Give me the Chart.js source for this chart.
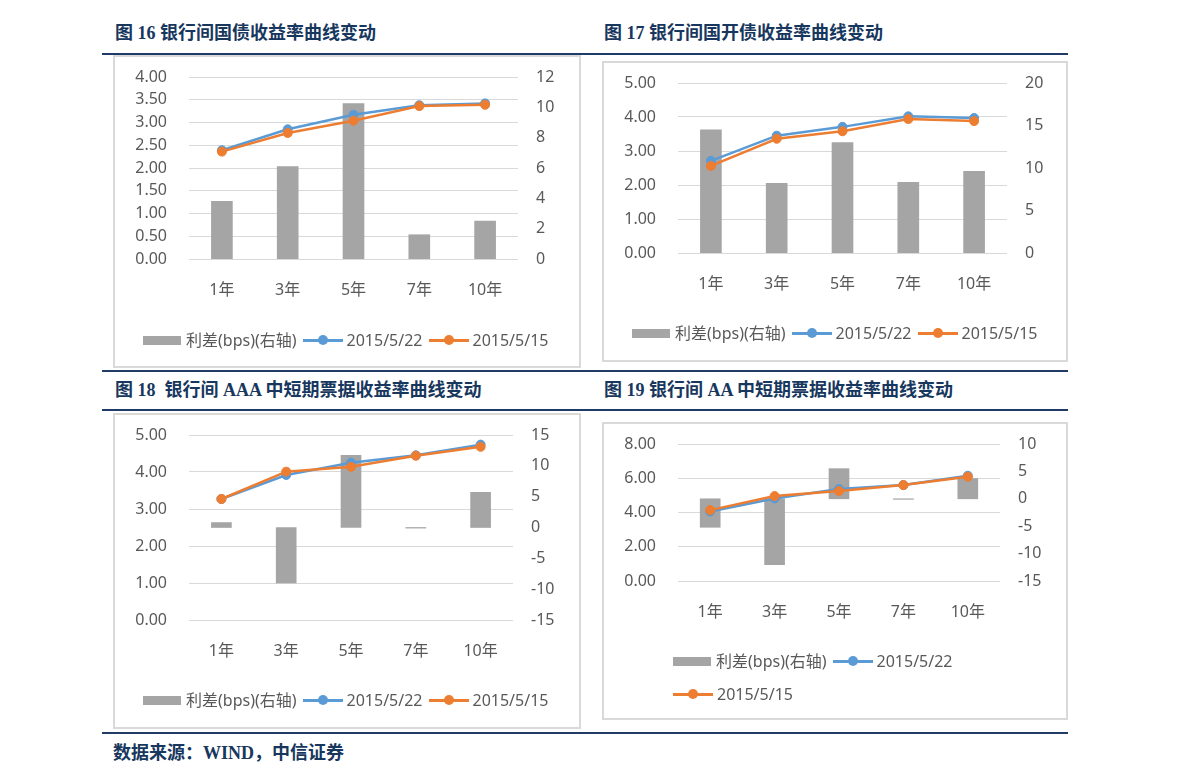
<!DOCTYPE html>
<html>
<head>
<meta charset="utf-8">
<script src="https://cdn.jsdelivr.net/npm/chart.js@4.4.1/dist/chart.umd.min.js"></script>
<style>
body { margin: 0; background: #fff; width: 1191px; height: 783px; position: relative; overflow: hidden;
       font-family: 'Noto Sans', 'Noto Sans CJK SC', sans-serif; }
.title { position: absolute; font: bold 18px 'Liberation Serif', 'Noto Sans CJK SC', serif; color: #17375E;
         white-space: nowrap; line-height: 20px; }
.rule { position: absolute; left: 102px; width: 966px; height: 2px; background: #1F3B66; }
.box { position: absolute; border: 2px solid #D9D9D9; box-sizing: border-box; }
canvas { position: absolute; }
.legend { position: absolute; display: flex; flex-wrap: wrap; align-items: center; font-size: 16px;
          color: #595959; row-gap: 11px; line-height: 22px; white-space: nowrap; }
.item { display: flex; align-items: center; margin-right: 6px; }
.sw { width: 38px; height: 9px; background: #A5A5A5; margin-right: 5px; }
.mk { position: relative; width: 40px; height: 10px; margin-right: 4px; }
.mk i { position: absolute; left: 0; right: 0; top: 4px; height: 2.5px; }
.mk b { position: absolute; left: 15px; top: 0; width: 10px; height: 10px; border-radius: 50%; }
</style>
</head>
<body>

<div class="title" style="left:115px;top:23px">图 16 银行间国债收益率曲线变动</div>
<div class="title" style="left:604px;top:23px">图 17 银行间国开债收益率曲线变动</div>
<div class="title" style="left:115px;top:380px">图 18&nbsp; 银行间 AAA 中短期票据收益率曲线变动</div>
<div class="title" style="left:604px;top:380px">图 19 银行间 AA 中短期票据收益率曲线变动</div>
<div class="title" style="left:113px;top:743px">数据来源：WIND，中信证券</div>

<div class="rule" style="top:53px"></div>
<div class="rule" style="top:370px"></div>
<div class="rule" style="top:409px"></div>
<div class="rule" style="top:732px"></div>

<div id="wrap"></div>

<script>
// categories and legend text
const tenors = ['1年', '3年', '5年', '7年', '10年'];
const seriesNames = ['利差(bps)(右轴)', '2015/5/22', '2015/5/15'];

// 图16 国债
const spread16 = [3.8, 6.1, 10.25, 1.6, 2.5];
const y0522_16 = [2.39, 2.85, 3.17, 3.38, 3.42];
const y0515_16 = [2.36, 2.77, 3.04, 3.36, 3.39];
const left16 = [0, 4, 0.5];      // min, max, step
const right16 = [0, 12, 2];

// 图17 国开债
const spread17 = [14.5, 8.2, 13.0, 8.3, 9.6];
const y0522_17 = [2.71, 3.45, 3.71, 4.02, 3.97];
const y0515_17 = [2.56, 3.36, 3.58, 3.94, 3.88];
const left17 = [0, 5, 1];
const right17 = [0, 20, 5];

// 图18 AAA 中短期票据
const spread18 = [0.8, -9.0, 11.7, -0.1, 5.7];
const y0522_18 = [3.27, 3.92, 4.25, 4.45, 4.74];
const y0515_18 = [3.27, 4.01, 4.14, 4.44, 4.68];
const left18 = [0, 5, 1];
const right18 = [-15, 15, 5];

// 图19 AA 中短期票据
const spread19 = [-5.2, -12.0, 5.5, -0.1, 3.7];
const y0522_19 = [4.06, 4.82, 5.37, 5.60, 6.15];
const y0515_19 = [4.14, 4.96, 5.25, 5.60, 6.09];
const left19 = [0, 8, 2];
const right19 = [-15, 10, 5];

const GRAY = '#A5A5A5', BLUE = '#5B9BD5', ORANGE = '#ED7D31';

Chart.defaults.font.family = "'Noto Sans', 'Noto Sans CJK SC', sans-serif";
Chart.defaults.font.size = 16;
Chart.defaults.color = '#595959';

function makeLegend(left, top, width) {
    const lg = document.createElement('div');
    lg.className = 'legend';
    lg.style.left = left + 'px';
    lg.style.top = top + 'px';
    if (width) lg.style.width = width + 'px';
    lg.innerHTML = `
        <div class="item"><span class="sw"></span>${seriesNames[0]}</div>
        <div class="item"><span class="mk"><i style="background:${BLUE}"></i><b style="background:${BLUE}"></b></span>${seriesNames[1]}</div>
        <div class="item"><span class="mk"><i style="background:${ORANGE}"></i><b style="background:${ORANGE}"></b></span>${seriesNames[2]}</div>`;
    document.getElementById('wrap').appendChild(lg);
}

// box = [left, top, right, bottom], plot = [left, top, right, bottom] in page pixels
function makeChart(box, plot, spread, y522, y515, leftAx, rightAx, barW) {
    const [bL, bT, bR, bB] = box;
    const [pL, pT, pR, pB] = plot;
    const w = bR - bL, h = bB - bT;

    const frame = document.createElement('div');
    frame.className = 'box';
    Object.assign(frame.style, { left: bL + 'px', top: bT + 'px', width: w + 'px', height: h + 'px' });
    document.getElementById('wrap').appendChild(frame);

    const cv = document.createElement('canvas');
    cv.width = w; cv.height = h;
    Object.assign(cv.style, { left: bL + 'px', top: bT + 'px', width: w + 'px', height: h + 'px' });
    document.getElementById('wrap').appendChild(cv);

    // keep the tick-label overhang from pushing the plot area around
    const noPad = s => { s.paddingTop = 0; s.paddingBottom = 0; s.paddingLeft = 0; s.paddingRight = 0; };

    return new Chart(cv.getContext('2d'), {
        data: {
            labels: tenors,
            datasets: [
                { type: 'line', label: seriesNames[2], data: y515, yAxisID: 'y', order: 1,
                  borderColor: ORANGE, backgroundColor: ORANGE, borderWidth: 2.5,
                  pointRadius: 4.5, pointBorderWidth: 1, tension: 0 },
                { type: 'line', label: seriesNames[1], data: y522, yAxisID: 'y', order: 2,
                  borderColor: BLUE, backgroundColor: BLUE, borderWidth: 2.5,
                  pointRadius: 4.5, pointBorderWidth: 1, tension: 0 },
                { type: 'bar', label: seriesNames[0], data: spread, yAxisID: 'y1', order: 3,
                  backgroundColor: GRAY, barThickness: barW }
            ]
        },
        options: {
            responsive: false,
            animation: false,
            devicePixelRatio: 1,
            layout: { padding: { top: pT - bT, left: 0, right: 0, bottom: 0 } },
            plugins: { legend: { display: false }, tooltip: { enabled: false } },
            scales: {
                x: {
                    grid: { display: false }, border: { display: false },
                    ticks: { padding: 14, autoSkip: false, maxRotation: 0 },
                    afterFit: s => { noPad(s); s.height = bB - pB; }
                },
                y: {
                    position: 'left', min: leftAx[0], max: leftAx[1],
                    ticks: { stepSize: leftAx[2], padding: 22, autoSkip: false, callback: v => v.toFixed(2) },
                    grid: { color: '#D9D9D9', lineWidth: 1, drawTicks: false },
                    border: { display: false },
                    afterFit: s => { noPad(s); s.width = pL - bL; }
                },
                y1: {
                    position: 'right', min: rightAx[0], max: rightAx[1],
                    ticks: { stepSize: rightAx[2], padding: 18, autoSkip: false, callback: v => String(v) },
                    grid: { display: false, drawTicks: false },
                    border: { display: false },
                    afterFit: s => { noPad(s); s.width = bR - pR; }
                }
            }
        }
    });
}

makeChart([113, 55, 581, 368], [189, 77, 518, 259], spread16, y0522_16, y0515_16, left16, right16, 21);
makeChart([602, 61, 1068, 362], [678, 83, 1007, 253], spread17, y0522_17, y0515_17, left17, right17, 21);
makeChart([113, 413, 581, 729], [189, 435, 513, 620], spread18, y0522_18, y0515_18, left18, right18, 20);
makeChart([602, 422, 1068, 720], [678, 444, 1000, 581], spread19, y0522_19, y0515_19, left19, right19, 20);

makeLegend(143, 329);
makeLegend(632, 322);
makeLegend(143, 689);
makeLegend(673, 650, 310);
</script>
</body>
</html>
